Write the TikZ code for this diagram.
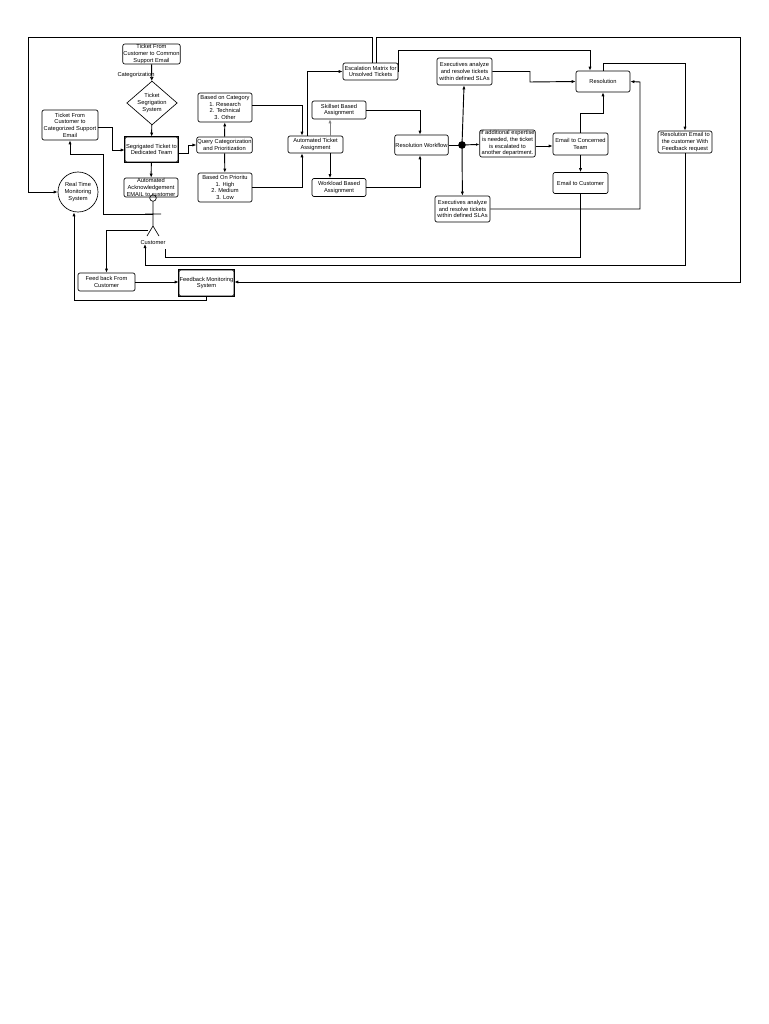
\documentclass[tikz,border=0pt]{standalone}
\usepackage{fontspec}
\setmainfont{Liberation Sans}
\usetikzlibrary{arrows.meta,shapes.geometric}
\begin{document}
\begin{tikzpicture}[x=0.75pt,y=-0.75pt,
  font=\fontsize{4.3}{5}\selectfont,
  box/.style={draw,rounded corners=1.5pt,align=center,inner sep=0.5pt,line width=0.5pt},
  ln/.style={line width=0.7pt},
  ar/.style={ln,-{Latex[length=3pt,width=2.4pt]}}]
\useasboundingbox[fill=white] (0,0) rectangle (768,1024);
\def\bx#1#2#3#4#5#6{\node[box,minimum width=#4*0.75pt,minimum height=#5*0.75pt] (#1) at (#2,#3) {#6};}
\bx{tc}{151.5}{54}{55}{17}{Ticket From\\Customer to Common\\Support Email}
\node[draw,diamond,aspect=1.15,inner sep=0pt,minimum width=34pt,minimum height=30pt,align=center,line width=0.5pt] (dia) at (152,103) {Ticket\\Segrigation\\System};
\node (catlab) at (136,75) {Categorization};
\bx{seg}{151.5}{149.5}{53}{25}{Segrigated Ticket to\\Dedicated Team}
\draw[line width=1pt] (seg.south west) rectangle (seg.north east);
\bx{ack}{151}{187.5}{54}{19}{Automated\\Acknowledgement\\EMAIL  to customer}
\bx{tcat}{70}{125}{56}{30}{Ticket From\\Customer to\\Categorized Support\\Email}
\node[draw,circle,minimum size=30pt,align=center,inner sep=0pt,line width=0.5pt] (rt) at (78,192) {Real Time\\Monitoring\\System};
\bx{cat}{225}{107.5}{54}{29}{Based on Category\\1. Research\\2. Technical\\3. Other}
\bx{qc}{224.5}{145}{55}{16}{Query Categorization\\and Prioritization}
\bx{pri}{225}{187.5}{54}{29}{Based On Prioritu\\1. High\\2. Medium\\3. Low}
\bx{ata}{315.5}{144.5}{55}{17}{Automated Ticket\\Assignment}
\bx{esc}{370.5}{71.5}{55}{17}{Escalation Matrix for\\Unsolved Tickets}
\bx{sk}{339}{110}{54}{18}{Skillset Based\\Assignment}
\bx{wl}{339}{187.5}{54}{18}{Workload Based\\Assignment}
\bx{rw}{421.5}{145}{53}{20}{Resolution Workflow}
\fill (462,145) circle (3.8) coordinate (dot);
\coordinate (dot) at (462,145);
\bx{ex1}{464.5}{71.5}{55}{27}{Executives analyze\\and resolve tickets\\within defined SLAs}
\bx{ex2}{462.5}{209}{55}{26}{Executives analyze\\and resolve tickets\\within defined SLAs}
\bx{esd}{507.5}{143.5}{55}{27}{If additional expertise\\is needed, the ticket\\is escalated to\\another department.}
\bx{ect}{580.5}{144}{55}{22}{Email to Concerned\\Team}
\bx{ecu}{580.5}{183}{55}{21}{Email to Customer}
\bx{res}{603}{81.5}{54}{21}{Resolution}
\bx{rem}{685}{142}{54}{22}{Resolution Email to\\the customer With\\Feedback request}
\bx{fbc}{106.5}{282}{57}{18}{Feed back From\\Customer}
\bx{fbm}{206.5}{283}{55}{26}{Feedback Monitoring\\System}
\draw[line width=1pt] (fbm.south west) rectangle (fbm.north east);
% customer actor
\draw[line width=0.5pt] (153,198) circle (3.3);
\draw[line width=0.5pt] (153,201.3)--(153,226) (145,214)--(161,214) (153,226)--(147,236) (153,226)--(159,236);
\coordinate (cust) at (153,214);
\node (custlab) at (153,243) {Customer};
% connectors
\draw[ln,-{Latex[open,length=3pt,width=3pt]}] (tc) -- (dia);
\draw[ar] (dia) -- (seg);
\draw[ar] (seg) -- (ack);
\draw[ar] (tcat.east|-0,127) -| (112,127) |- (seg.west|-0,150);
\draw[ar] (seg.east|-0,153) -| (188,145) -- (qc);
\draw[ar] (qc) -- (cat);
\draw[ar] (qc) -- (pri);
\draw[ar] (cat.east|-0,105) -| (302,0|-ata.north);
\draw[ar] (pri.east|-0,187) -| (302,0|-ata.south);
\draw[ar] (ata.north-|307,0) |- (esc.west);
\draw[ln,-{Latex[length=3pt,width=2.4pt]},gray] (ata.north-|330,0) -- (sk.south-|330,0);
\draw[ar] (ata.south-|330,0) -- (wl.north-|330,0);
\draw[ar] (sk.east) -| (rw.north-|420,0);
\draw[ar] (wl.east) -| (rw.south-|420,0);
\draw[ln] (rw) -- (dot);
\draw[ar] (dot) -- (ex1);
\draw[ar] (dot) -- (ex2);
\draw[ln,-{Latex[length=2.5pt,width=2pt]}] (dot) -- (esd);
\draw[ar] (esd.east|-0,146) -- (ect.west|-0,146);
\draw[ar] (ect) -- (ecu);
\draw[ar] (ect.north) |- (603,113) -- (res.south);
\draw[ar] (ex1.east) -| (530,82) -- (res.west);
\draw[ar] (ex2.east) -| (640,82) -- (res.east);
\draw[ar] (esc.east) -| (398,50) -| (590,0|-res.north);
\draw[ar] (res.north) |- (685,63) -- (rem.north);
\draw[ar] (esc.north-|372,0) |- (28,37) |- (rt.west);
\draw[ar] (esc.north-|376,0) |- (740,37) |- (fbm.east|-0,282);
\draw[ar] (rem.south) |- (145,265) -- (145,244);
\draw[ln] (ecu.south) |- (165,257) -- (165,249);
\draw[ar] (cust) -| (103,154) -| (tcat.south-|70,0);
\draw[ar] (148,230) -| (fbc.north);
\draw[ar] (fbc.east) -- (fbm.west|-fbc.east);
\draw[ar] (fbm.south) |- (74,300) -- (rt.south-|74,0);
\end{tikzpicture}
\end{document}
